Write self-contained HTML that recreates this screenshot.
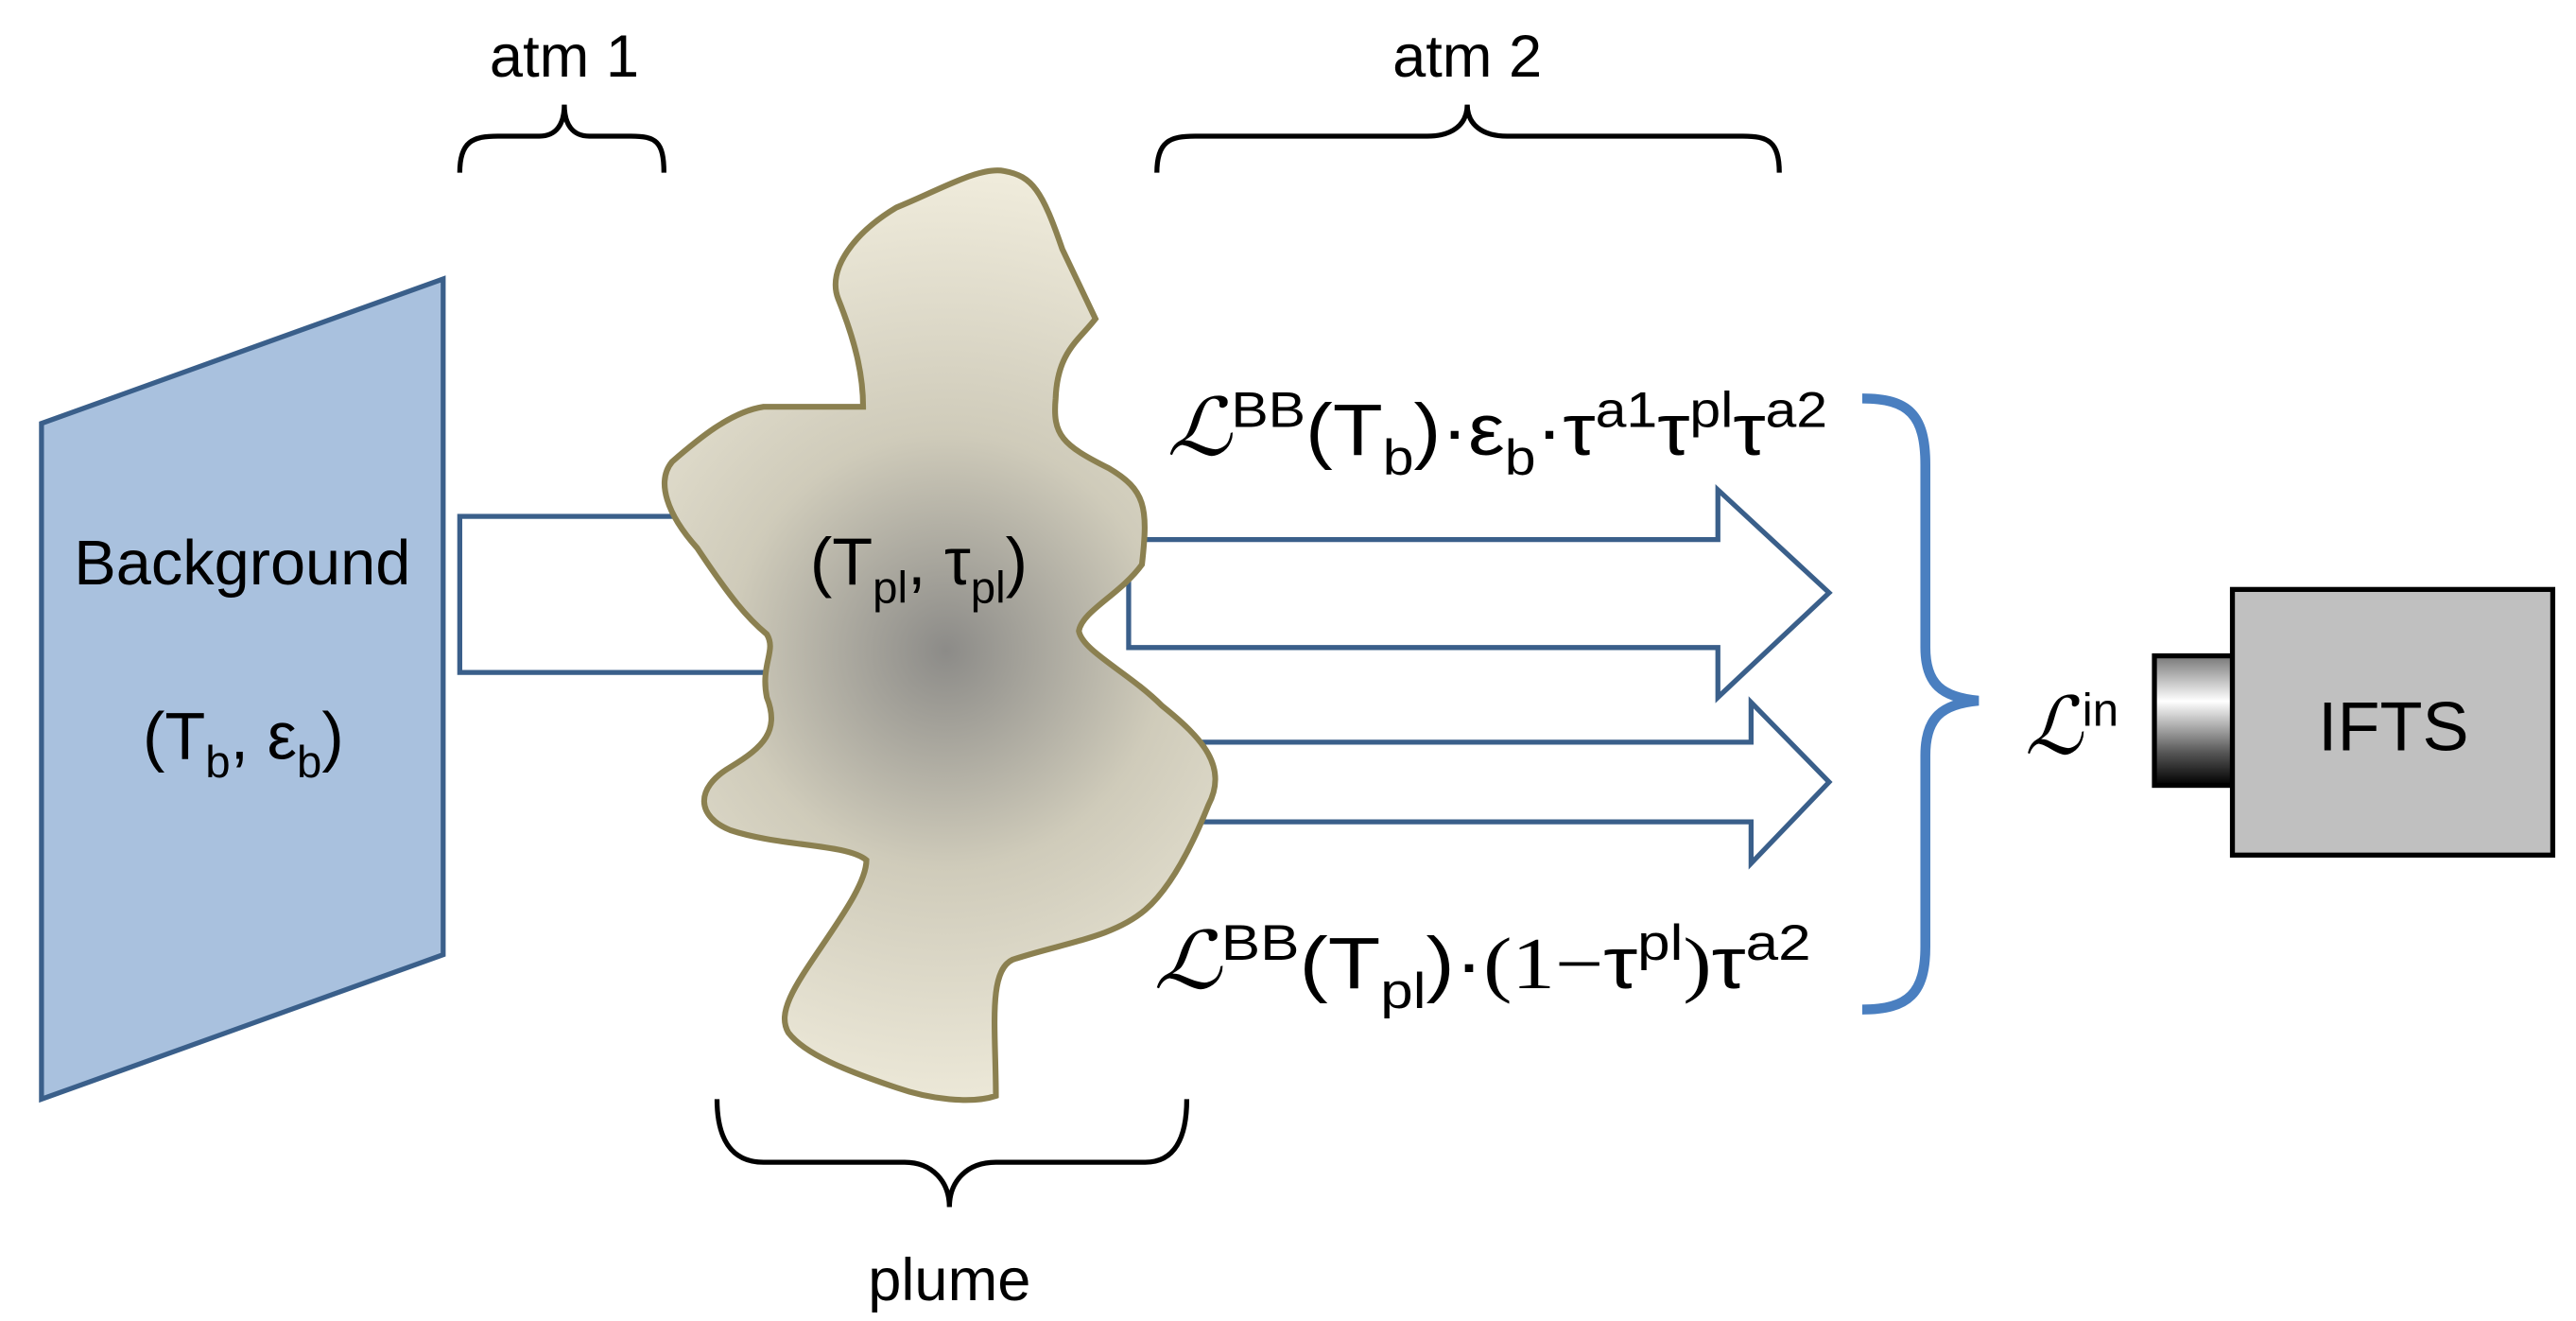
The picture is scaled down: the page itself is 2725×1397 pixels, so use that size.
<!DOCTYPE html>
<html><head><meta charset="utf-8"><style>
html,body{margin:0;padding:0;background:#fff;}
svg{display:block;}
text{font-family:"Liberation Sans",sans-serif;fill:#000;}
.s{font-family:"DejaVu Serif","Liberation Serif",serif;font-style:italic;}
.m{font-family:"Liberation Serif",serif;}
</style></head><body>
<svg width="2725" height="1397" viewBox="0 0 1552 795.6" preserveAspectRatio="none" xmlns="http://www.w3.org/2000/svg">
<defs>
<radialGradient id="pg" cx="570" cy="392" r="290" gradientUnits="userSpaceOnUse">
<stop offset="0" stop-color="#8c8b88"/><stop offset="0.45" stop-color="#cfcbba"/><stop offset="1" stop-color="#f0ecdc"/>
</radialGradient>
<linearGradient id="lg" x1="0" y1="0" x2="0" y2="1">
<stop offset="0" stop-color="#777"/><stop offset="0.35" stop-color="#fff"/><stop offset="0.75" stop-color="#555"/><stop offset="1" stop-color="#000"/>
</linearGradient>
</defs>
<polygon points="25,255 267,168 267,575 25,662" fill="#a9c1de" stroke="#3a5f8a" stroke-width="3"/>
<text x="146" y="352" font-size="38" text-anchor="middle">Background</text>
<text x="86" y="457" font-size="40">(T<tspan font-size="27" dy="11">b</tspan><tspan dy="-11">, ε</tspan><tspan font-size="27" dy="11">b</tspan><tspan dy="-11">)</tspan></text>
<rect x="277" y="311" width="200" height="94" fill="#fff" stroke="#3a5f8a" stroke-width="3"/>
<polygon points="680,325 1035,325 1035,295 1102,357 1035,420 1035,390 680,390" fill="#fff" stroke="#3a5f8a" stroke-width="3"/>
<polygon points="700,447 1055,447 1055,423 1102,471 1055,520 1055,495 700,495" fill="#fff" stroke="#3a5f8a" stroke-width="3"/>
<path d="M540,125 C565,115 590,100 605,103 C622,106 628,115 640,150 L660,192 C650,205 637,212 636,240 C634,262 640,268 668,282 C690,295 692,305 688,340 C675,358 652,368 650,380 C652,392 680,405 700,425 C725,445 740,462 728,485 C718,510 705,535 690,548 C670,565 640,568 610,578 C595,585 600,620 600,660 C585,665 560,662 540,655 C510,645 485,635 475,622 C468,610 478,595 495,570 C510,548 522,530 522,518 C510,508 470,510 440,500 C420,492 418,475 440,462 C460,450 470,440 462,420 C458,400 468,392 462,382 C450,372 440,360 420,330 C402,310 395,290 405,278 C420,265 440,248 460,245 L520,245 C520,225 515,205 505,180 C498,162 515,140 540,125 Z" fill="url(#pg)" stroke="#8b8050" stroke-width="3.5"/>
<text x="488" y="352" font-size="40">(T<tspan font-size="27" dy="11">pl</tspan><tspan dy="-11">, τ</tspan><tspan font-size="27" dy="11">pl</tspan><tspan dy="-11">)</tspan></text>
<g fill="none" stroke="#000" stroke-width="3">
<path d="M277,104 C277,85 285,82 300,82 L325,82 C335,82 340,75 340,63 C340,75 345,82 355,82 L380,82 C395,82 400,85 400,104"/>
<path d="M697,104 C697,85 705,82 720,82 L860,82 C875,82 884,75 884,63 C884,75 893,82 908,82 L1050,82 C1065,82 1072,85 1072,104"/>
<path d="M432,662 C432,685 440,700 460,700 L545,700 C562,700 572,712 572,727 C572,712 582,700 600,700 L690,700 C708,700 715,685 715,662"/>
</g>
<text x="340" y="46" font-size="36" text-anchor="middle">atm 1</text>
<text x="884" y="46" font-size="36" text-anchor="middle">atm 2</text>
<text x="572" y="783" font-size="36" text-anchor="middle">plume</text>
<text x="703" y="274" font-size="44" textLength="398" lengthAdjust="spacingAndGlyphs"><tspan class="s" font-size="48">ℒ</tspan><tspan font-size="30" dy="-17">BB</tspan><tspan dy="17">(T</tspan><tspan font-size="30" dy="12">b</tspan><tspan dy="-12">)·ε</tspan><tspan font-size="30" dy="12">b</tspan><tspan dy="-12">·τ</tspan><tspan font-size="30" dy="-17">a1</tspan><tspan dy="17">τ</tspan><tspan font-size="30" dy="-17">pl</tspan><tspan dy="17">τ</tspan><tspan font-size="30" dy="-17">a2</tspan></text>
<text x="695" y="595" font-size="44" textLength="396" lengthAdjust="spacingAndGlyphs"><tspan class="s" font-size="48">ℒ</tspan><tspan font-size="30" dy="-17">BB</tspan><tspan dy="17">(T</tspan><tspan font-size="30" dy="12">pl</tspan><tspan dy="-12">)·</tspan><tspan class="m">(1−</tspan>τ<tspan font-size="30" dy="-17">pl</tspan><tspan dy="17" class="m">)</tspan>τ<tspan font-size="30" dy="-17">a2</tspan></text>
<path d="M1122,240 C1150,240 1160,250 1160,280 L1160,390 C1160,412 1170,420 1192,422 C1170,424 1160,432 1160,455 L1160,570 C1160,598 1150,608 1122,608" fill="none" stroke="#4a7fc0" stroke-width="6"/>
<text x="1220" y="454" font-size="42"><tspan class="s" font-size="48">ℒ</tspan><tspan font-size="28" dy="-17">in</tspan></text>
<rect x="1298" y="395" width="47" height="78" fill="url(#lg)" stroke="#000" stroke-width="3"/>
<rect x="1345" y="355" width="193" height="160" fill="#c0c0c0" stroke="#000" stroke-width="3"/>
<text x="1442" y="452" font-size="42" text-anchor="middle">IFTS</text>
</svg>
</body></html>
